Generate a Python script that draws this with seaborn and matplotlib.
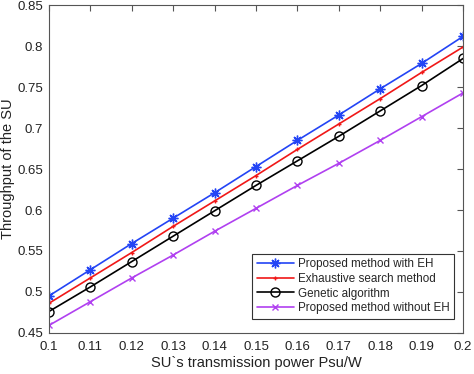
import matplotlib
matplotlib.use("Agg")
import matplotlib.pyplot as plt
import numpy as np
import pandas as pd
import seaborn as sns

# SU transmission power (W)
power = [0.10, 0.11, 0.12, 0.13, 0.14, 0.15, 0.16, 0.17, 0.18, 0.19, 0.20]

# throughput of the SU
with_eh = [0.495, 0.527, 0.559, 0.590, 0.621, 0.653, 0.685, 0.716, 0.748, 0.779, 0.812]
exhaustive = [0.486, 0.517, 0.548, 0.580, 0.611, 0.642, 0.674, 0.705, 0.736, 0.768, 0.799]
genetic = [0.476, 0.506, 0.537, 0.568, 0.599, 0.630, 0.660, 0.690, 0.721, 0.752, 0.785]
without_eh = [0.459, 0.488, 0.517, 0.545, 0.574, 0.602, 0.630, 0.657, 0.685, 0.714, 0.743]

labels = ["Proposed method with EH", "Exhaustive search method",
          "Genetic algorithm", "Proposed method without EH"]
x_ticks = [0.1, 0.11, 0.12, 0.13, 0.14, 0.15, 0.16, 0.17, 0.18, 0.19, 0.2]
y_ticks = [0.45, 0.5, 0.55, 0.6, 0.65, 0.7, 0.75, 0.8, 0.85]

sns.set_style("white")
plt.rcParams["font.family"] = ["Liberation Sans", "DejaVu Sans"]

fig = plt.figure(figsize=(4.74, 3.74), dpi=100)
ax = fig.add_axes([0.103, 0.110, 0.874, 0.876])

# (values, colour, marker, size, hollow)
styles = [
    (with_eh, "#2344f5", (8, 2, 0), 7, False),
    (exhaustive, "#f01818", "+", 3, False),
    (genetic, "#000000", "o", 6.5, True),
    (without_eh, "#b040f0", "x", 4.5, False),
]
for (vals, color, mk, ms, hollow), lab in zip(styles, labels):
    df = pd.DataFrame({"power": power, "throughput": vals})
    sns.lineplot(data=df, x="power", y="throughput", ax=ax, color=color,
                 marker=mk, markersize=ms,
                 markerfacecolor="none" if hollow else color,
                 markeredgecolor=color, markeredgewidth=1.0, linewidth=1.2, label=lab)

ax.set_xlim(0.1, 0.2)
ax.set_ylim(0.45, 0.85)
ax.set_xticks(x_ticks)
ax.set_xticklabels([f"{v:g}" for v in x_ticks])
ax.set_yticks(y_ticks)
ax.set_yticklabels([f"{v:g}" for v in y_ticks])
ax.tick_params(direction="in", length=4, width=0.8, color="#555555",
               top=True, right=True, labelsize=9.5, labelcolor="#222222")
ax.tick_params(axis="x", pad=6)
ax.tick_params(axis="y", pad=4)
for sp in ax.spines.values():
    sp.set_visible(True)
    sp.set_color("#555555")
    sp.set_linewidth(0.8)

ax.set_xlabel("SU`s transmission power Psu/W", fontsize=10.5, color="#222222", labelpad=2)
ax.set_ylabel("Throughput of the SU", fontsize=10.5, color="#222222", labelpad=2)

leg = ax.legend(loc="lower right", bbox_to_anchor=(0.978, 0.043), fontsize=8.4,
                frameon=True, fancybox=False, edgecolor="#333333", framealpha=1,
                borderpad=0.4, labelspacing=0.22, handlelength=3.2,
                handletextpad=0.3, borderaxespad=0)
leg.get_frame().set_linewidth(0.8)

fig.savefig("out.png", dpi=100)
